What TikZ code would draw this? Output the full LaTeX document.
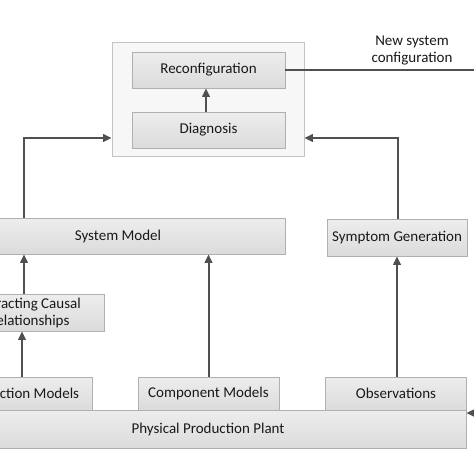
\documentclass[tikz,border=0pt]{standalone}
\usepackage{fontspec}
\setmainfont{Carlito}
\usetikzlibrary{arrows.meta}
\definecolor{boxline}{HTML}{B0B0B0}
\definecolor{outerline}{HTML}{C4C4C4}
\definecolor{conn}{HTML}{505050}
\begin{document}
\begin{tikzpicture}[x=1pt,y=-1pt,
  box/.style={draw=boxline, line width=0.8pt, top color=white!93!black, bottom color=white!86!black,
    font=\fontsize{15}{17}\selectfont, inner sep=0pt, align=center, text=black!90},
  outerbox/.style={draw=outerline, line width=0.8pt, fill=white!97!black, inner sep=0pt},
  arr/.style={draw=conn, line width=2pt, -{Triangle[length=8.5pt,width=7.5pt]}},
  ln/.style={draw=conn, line width=2pt},
  lbl/.style={font=\fontsize{15}{17}\selectfont, align=center, text=black!90}]
\useasboundingbox (0,0) rectangle (474,474);
\clip (0,0) rectangle (474,474);
\fill[white] (0,0) rectangle (474,474);
% outer box
\node[outerbox, minimum width=192pt, minimum height=114pt] (outer) at (208,99) {};
\node[box, minimum width=153pt, minimum height=36pt] (reconf) at (208.5,70) {Reconfiguration};
\node[box, minimum width=153pt, minimum height=36pt] (diag) at (208.5,130) {Diagnosis};
% middle
\node[box, minimum width=334pt, minimum height=36pt] (sm) at (118,236) {System Model};
\node[box, minimum width=140pt, minimum height=37pt] (sg) at (397,237.5) {Symptom Generation};
\node[box, minimum width=150pt, minimum height=37pt] (ex) at (29,312.5) {Extracting Causal\\Relationships};
% bottom
\node[box, minimum width=516pt, minimum height=38pt] (plant) at (208,429) {Physical Production Plant};
\node[box, minimum width=141pt, minimum height=33pt] (im) at (21.5,393.5) {Interaction Models};
\node[box, minimum width=141pt, minimum height=33pt] (cm) at (208.5,393.5) {Component Models};
\node[box, minimum width=141pt, minimum height=33pt] (ob) at (396,393.5) {Observations};
% label
\node[lbl] (nsc) at (412,50) {New system\\configuration};
% coordinates
\coordinate (lx) at (24,138);
\coordinate (rx) at (398,138);
\coordinate (outend) at (474,70);
\coordinate (inend) at (474,413);
% connectors
\draw[arr] ([xshift=-2.5pt]diag.north) -- ([xshift=-2.5pt]reconf.south);
\draw[ln] (reconf.east) -- (outend);
\draw[arr] (sm.north -| lx) |- (outer.west |- lx);
\draw[arr] (sg.north -| rx) |- (outer.east |- rx);
\draw[arr] (ex.north -| lx) -- (sm.south -| lx);
\draw[arr] ([xshift=0.5pt]im.north) -- ([xshift=0.5pt]ex.south -| im.north);
\draw[arr] (cm.north) -- (sm.south -| cm.north);
\draw[arr] ([xshift=1pt]ob.north) -- ([xshift=1pt]sg.south -| ob.north);
\draw[arr] (inend) -- (plant.east |- inend);
\end{tikzpicture}
\end{document}
